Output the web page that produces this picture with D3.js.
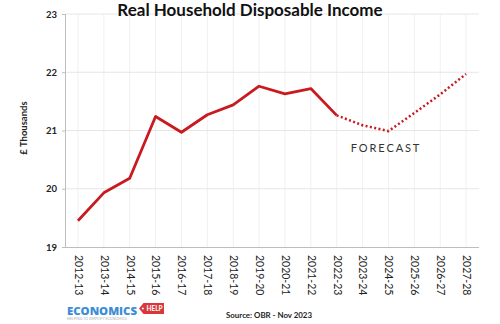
<!DOCTYPE html>
<html>
<head>
<meta charset="utf-8">
<script src="https://cdn.jsdelivr.net/npm/d3@7"></script>
<style>
html,body{margin:0;padding:0;background:#fff;}
svg{display:block;}
</style>
</head>
<body>
<svg id="chart" width="500" height="324"></svg>
<script>
const categories = ["2012-13","2013-14","2014-15","2015-16","2016-17","2017-18","2018-19","2019-20","2020-21","2021-22","2022-23","2023-24","2024-25","2025-26","2026-27","2027-28"];
const actualValues = [19.45,19.93,20.18,21.24,20.97,21.27,21.44,21.76,21.63,21.72,21.26,null,null,null,null,null];
const forecastValues = [null,null,null,null,null,null,null,null,null,null,21.26,21.09,20.99,21.30,21.62,21.97];
const yTicks = [19,20,21,22,23];
const titleText = "Real Household Disposable Income";
const yLabel = "£ Thousands";
const forecastLabel = "FORECAST";
const sourceText = "Source: OBR - Nov 2023";

const svg = d3.select("#chart");
const L = 65, R = 479, T = 14, B = 247;

const x = d3.scalePoint().domain(categories).range([L, R]).padding(0.5);
const y = d3.scaleLinear().domain([19, 23]).range([B, T]);

// vertical gridlines
svg.append("g").selectAll("line").data(categories).join("line")
  .attr("x1", d => x(d)).attr("x2", d => x(d))
  .attr("y1", T).attr("y2", B)
  .attr("stroke", "#f0f0f0").attr("stroke-width", 1);

// horizontal gridlines
svg.append("g").selectAll("line").data(yTicks.slice(1)).join("line")
  .attr("x1", L).attr("x2", R)
  .attr("y1", d => y(d)).attr("y2", d => y(d))
  .attr("stroke", "#e6e6e6").attr("stroke-width", 1);

// y axis
const yAxis = svg.append("g").attr("transform", `translate(${L},0)`)
  .call(d3.axisLeft(y).tickValues(yTicks).tickFormat(d3.format("d")).tickSize(3).tickPadding(5));
yAxis.select(".domain").attr("stroke", "#bdbdbd");
yAxis.selectAll(".tick line").attr("stroke", "#bdbdbd");
yAxis.selectAll("text").attr("font-family", "Lato, 'Open Sans', sans-serif")
  .attr("font-weight", "bold").attr("font-size", 9.5).attr("fill", "#222");

// x axis
const xAxis = svg.append("g").attr("transform", `translate(0,${B})`)
  .call(d3.axisBottom(x).tickSize(0).tickPadding(0));
xAxis.select(".domain").attr("stroke", "#bdbdbd").attr("d", `M${L},0.5H${R}`);
xAxis.selectAll(".tick text")
  .attr("font-family", "Lato, 'Open Sans', sans-serif")
  .attr("font-size", 10.5).attr("fill", "#222")
  .attr("text-anchor", "start")
  .attr("transform", "translate(0,8) rotate(90)")
  .attr("x", 0).attr("y", 0).attr("dy", "0.35em");

// lines
const lineGen = d3.line().defined(d => d.v !== null).x(d => x(d.c)).y(d => y(d.v));
const actual = categories.map((c, i) => ({c, v: actualValues[i]}));
const forecast = categories.map((c, i) => ({c, v: forecastValues[i]}));

svg.append("path").datum(forecast).attr("d", lineGen)
  .attr("fill", "none").attr("stroke", "#c81a1f").attr("stroke-width", 2.5)
  .attr("stroke-dasharray", "2,2.4");
svg.append("path").datum(actual).attr("d", lineGen)
  .attr("fill", "none").attr("stroke", "#c81a1f").attr("stroke-width", 2.8)
  .attr("stroke-linejoin", "round");

// title
svg.append("text").attr("x", 250).attr("y", 16).attr("text-anchor", "middle")
  .attr("font-family", "Lato, 'Open Sans', sans-serif").attr("font-weight", "bold")
  .attr("font-size", 17).attr("fill", "#111").text(titleText);

// y label
svg.append("text").attr("transform", "translate(27,128) rotate(-90)")
  .attr("text-anchor", "middle")
  .attr("font-family", "Lato, 'Open Sans', sans-serif").attr("font-weight", "bold")
  .attr("font-size", 9.5).attr("fill", "#222").text(yLabel);

// forecast label
svg.append("text").attr("x", 386).attr("y", 152).attr("text-anchor", "middle")
  .attr("font-family", "Lato, 'Open Sans', sans-serif")
  .attr("font-size", 11).attr("letter-spacing", 1.9).attr("fill", "#333").text(forecastLabel);

// logo
const logo = svg.append("g");
logo.append("text").attr("x", 67).attr("y", 314.5)
  .attr("font-family", "'Open Sans', Lato, sans-serif").attr("font-weight", "800")
  .attr("font-size", 11).attr("fill", "#3a8dd6").attr("textLength", 70)
  .attr("lengthAdjust", "spacingAndGlyphs").text("ECONOMICS");
logo.append("path").attr("d", "M139,308.5 L143.5,303 L164,303 L164,314 L143.5,314 Z").attr("fill", "#d9383a");
logo.append("circle").attr("cx", 142.8).attr("cy", 308.5).attr("r", 1).attr("fill", "#fff");
logo.append("text").attr("x", 154.5).attr("y", 311.3).attr("text-anchor", "middle")
  .attr("font-family", "Lato, sans-serif").attr("font-weight", "bold")
  .attr("font-size", 6.5).attr("fill", "#fff").text("HELP");
logo.append("text").attr("x", 67).attr("y", 320)
  .attr("font-family", "Lato, sans-serif").attr("font-size", 3.5).attr("fill", "#b0b0b0")
  .attr("textLength", 60).text("HELPING TO SIMPLIFY ECONOMICS");

// source
svg.append("text").attr("x", 226).attr("y", 318)
  .attr("font-family", "Lato, 'Open Sans', sans-serif").attr("font-weight", "bold")
  .attr("font-size", 7.9).attr("fill", "#222").text(sourceText);
</script>
</body>
</html>
